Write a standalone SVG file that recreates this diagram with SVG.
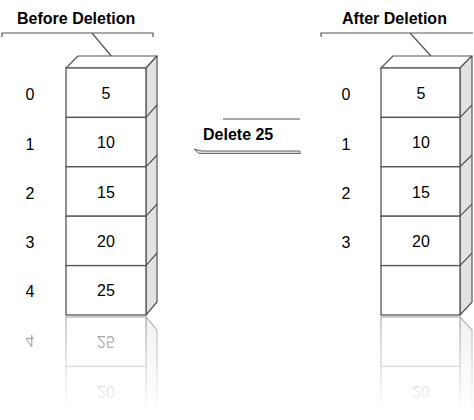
<svg xmlns="http://www.w3.org/2000/svg" width="474" height="420" viewBox="0 0 474 420">
<style>
.t{font-family:"Liberation Sans",Arial,sans-serif;fill:#000}
.h{font-size:16px;font-weight:bold}
.n{font-size:16px;text-anchor:middle}
.front{fill:#fff;stroke:#555;stroke-width:1.3}
.side{fill:#e2e2e2;stroke:#555;stroke-width:1.2;stroke-linejoin:round}
.top{fill:#fff;stroke:#555;stroke-width:1.2;stroke-linejoin:round}
.ln{stroke:#555;stroke-width:1.2;fill:none}
</style>
<defs>
<linearGradient id="fade" x1="0" y1="316" x2="0" y2="412" gradientUnits="userSpaceOnUse">
<stop offset="0" stop-color="#fff" stop-opacity="0.45"/>
<stop offset="1" stop-color="#fff" stop-opacity="0"/>
</linearGradient>
<mask id="m" maskUnits="userSpaceOnUse" x="0" y="316" width="474" height="104">
<rect x="0" y="316" width="474" height="104" fill="url(#fade)"/>
</mask>
</defs>
<rect width="474" height="420" fill="#fff"/>

<g id="before-label">
<text class="t h" x="17" y="24">Before Deletion</text>
<path class="ln" d="M2,37 V33 H153 V37 M92,33 L112,57"/>
</g>
<g id="after-label">
<text class="t h" x="342" y="24">After Deletion</text>
<path class="ln" d="M321,37 V33 H473 M410,33 L431,56"/>
</g>

<g id="before-stack">
<polygon class="top" points="66,68 78,56 157,56 146,68"/>
<polygon class="side" points="146,68 157,56 157,302 146,315"/>
<path class="ln" d="M146,117.4 L157,105 M146,166.8 L157,155 M146,216.2 L157,204 M146,265.6 L157,253"/>
<rect class="front" x="66" y="68" width="80" height="49.4"/>
<rect class="front" x="66" y="117.4" width="80" height="49.4"/>
<rect class="front" x="66" y="166.8" width="80" height="49.4"/>
<rect class="front" x="66" y="216.2" width="80" height="49.4"/>
<rect class="front" x="66" y="265.6" width="80" height="49.4"/>
<text class="t n" x="106" y="98.5">5</text>
<text class="t n" x="106" y="148">10</text>
<text class="t n" x="106" y="197.5">15</text>
<text class="t n" x="106" y="246.5">20</text>
<text class="t n" x="106" y="296">25</text>
<text class="t n" x="30" y="100">0</text>
<text class="t n" x="30" y="150">1</text>
<text class="t n" x="30" y="199">2</text>
<text class="t n" x="30" y="248">3</text>
<text class="t n" x="30" y="297">4</text>
</g>

<g id="after-stack">
<polygon class="top" points="381,68 393,56 472,56 460,68"/>
<polygon class="side" points="460,68 472,56 472,302 460,315"/>
<path class="ln" d="M460,117.4 L472,105 M460,166.8 L472,155 M460,216.2 L472,204 M460,265.6 L472,253"/>
<rect class="front" x="381" y="68" width="79" height="49.4"/>
<rect class="front" x="381" y="117.4" width="79" height="49.4"/>
<rect class="front" x="381" y="166.8" width="79" height="49.4"/>
<rect class="front" x="381" y="216.2" width="79" height="49.4"/>
<rect class="front" x="381" y="265.6" width="79" height="49.4"/>
<text class="t n" x="421" y="98.5">5</text>
<text class="t n" x="421" y="148">10</text>
<text class="t n" x="421" y="197.5">15</text>
<text class="t n" x="421" y="246.5">20</text>
<text class="t n" x="346" y="100">0</text>
<text class="t n" x="346" y="150">1</text>
<text class="t n" x="346" y="199">2</text>
<text class="t n" x="346" y="248">3</text>
</g>

<g id="delete-op">
<text class="t h" x="203" y="140">Delete 25</text>
<path class="ln" d="M223,119 H300"/>
<path d="M194,149 L199,153.5 H300 V151 H202 Z" fill="#ddd" stroke="#666" stroke-width="1"/>
</g>

<g id="reflection" mask="url(#m)">
<g transform="translate(0,632) scale(1,-1)">
<polygon class="side" points="146,217 157,204 157,302 146,315"/>
<rect class="front" x="66" y="216.2" width="80" height="49.4"/>
<rect class="front" x="66" y="265.6" width="80" height="49.4"/>
<text class="t n" x="106" y="246.5">20</text>
<text class="t n" x="106" y="296">25</text>
<text class="t n" x="30" y="297">4</text>
<polygon class="side" points="460,217 472,204 472,302 460,315"/>
<rect class="front" x="381" y="216.2" width="79" height="49.4"/>
<rect class="front" x="381" y="265.6" width="79" height="49.4"/>
<text class="t n" x="421" y="246.5">20</text>
</g>
</g>
</svg>
